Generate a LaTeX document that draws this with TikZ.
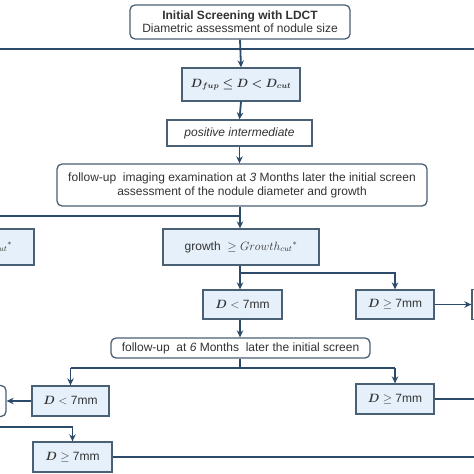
\documentclass[tikz,border=0pt]{standalone}
\usepackage{fontspec}
\setmainfont{Liberation Sans}
\usepackage{amsmath,bm}
\usetikzlibrary{arrows.meta}
\definecolor{edge}{HTML}{4A6075}
\definecolor{arr}{HTML}{2C4A6A}
\definecolor{fillb}{HTML}{E6F0FA}
\definecolor{txt}{HTML}{333333}
\tikzset{
  box/.style={draw=edge, line width=1.3pt, text=txt, inner sep=1pt, align=center,
    font=\fontsize{12}{14}\selectfont},
  bluebox/.style={box, fill=fillb},
  roundbox/.style={box, rounded corners=5pt, fill=white},
  conn/.style={draw=arr, line width=1.8pt},
  arrow/.style={conn, -{Stealth[length=7pt,width=6.5pt]}},
}
\begin{document}
\begin{tikzpicture}[x=1pt,y=-1pt]
\useasboundingbox (0,0) rectangle (474,474);
\clip (0,0) rectangle (474,474);
% nodes
\node[roundbox, minimum width=220pt, minimum height=34pt] (top) at (240,22)
  {\textbf{Initial Screening with LDCT}\\[-1pt]Diametric assessment of nodule size};
\node[bluebox, minimum width=118pt, minimum height=33pt] (dfup) at (241,84.5)
  {$\bm{D_{fup} \leq D < D_{cut}}$};
\node[box, fill=white, minimum width=145pt, minimum height=26pt] (pos) at (239.5,133)
  {\textit{positive intermediate}};
\node[roundbox, minimum width=370pt, minimum height=42pt] (fu3) at (242,185)
  {follow-up\ \ imaging examination at \textit{3} Months later the initial screen\\ assessment of the nodule diameter and growth};
\node[bluebox, minimum width=156pt, minimum height=36pt] (gleft) at (-44,247)
  {growth\ \ $<$ $\mathnormal{Growth}_{\mathnormal{cut}}{}^{*}$};
\node[bluebox, minimum width=156pt, minimum height=36pt] (growth) at (241,247)
  {growth\ \ $\geq$ $\mathnormal{Growth}_{\mathnormal{cut}}{}^{*}$};
\node[bluebox, minimum width=79pt, minimum height=29pt] (dlt1) at (242.5,304.5)
  {$\bm{D}$ $<$ 7mm};
\node[bluebox, minimum width=78pt, minimum height=29pt] (dge1) at (395,304.5)
  {$\bm{D}$ $\geq$ 7mm};
\node[box, fill=white, minimum width=80pt, minimum height=30pt] (rbox) at (512,304.5) {};
\node[roundbox, minimum width=259pt, minimum height=20pt] (fu6) at (240.5,348)
  {follow-up\ \ at \textit{6} Months\ \ later the initial screen};
\node[bluebox, minimum width=77pt, minimum height=30pt] (dlt2) at (70.5,401)
  {$\bm{D}$ $<$ 7mm};
\node[roundbox, minimum width=100pt, minimum height=31pt] (lbox) at (-44,401) {};
\node[bluebox, minimum width=78pt, minimum height=30pt] (dge2) at (395,399)
  {$\bm{D}$ $\geq$ 7mm};
\node[bluebox, minimum width=79pt, minimum height=30pt] (dge3) at (72.5,457)
  {$\bm{D}$ $\geq$ 7mm};
% junction coordinates
\coordinate (j1) at (240,49);
\coordinate (l1) at (0,49);
\coordinate (r1) at (474,49);
\coordinate (j2) at (240,216);
\coordinate (l2) at (0,216);
\coordinate (j3) at (240,273);
\coordinate (j4) at (240,368);
\coordinate (j4l) at (70.5,368);
\coordinate (j4r) at (395,368);
\coordinate (r2) at (474,399);
\coordinate (l3) at (0,427);
\coordinate (r3) at (474,457);
% connectors
\draw[conn] (l1) -- (r1);
\draw[arrow] (top.south) -- (dfup.north);
\draw[arrow] (dfup.south) -- (pos.north);
\draw[arrow] (pos.south) -- (fu3.north -| pos.south);
\draw[arrow] (fu3.south -| j2) -- (growth.north -| j2);
\draw[conn] (j2) -- (l2);
\draw[arrow] (growth.south -| j3) -- (dlt1.north -| j3);
\draw[arrow] (j3) -| (dge1.north);
\draw[arrow] (dge1.east) -- (rbox.west);
\draw[arrow] (dlt1.south -| j3) -- (fu6.north -| j3);
\draw[conn] (fu6.south -| j4) -- (j4);
\draw[conn] (j4l) -- (j4r);
\draw[arrow] (j4l) -- (dlt2.north);
\draw[arrow] (j4r) -- (dge2.north);
\draw[arrow] (dlt2.west) -- (lbox.east);
\draw[conn] (dge2.east) -- (r2);
\draw[arrow] (l3) -| (dge3.north);
\draw[conn] (dge3.east) -- (r3);
\end{tikzpicture}
\end{document}
